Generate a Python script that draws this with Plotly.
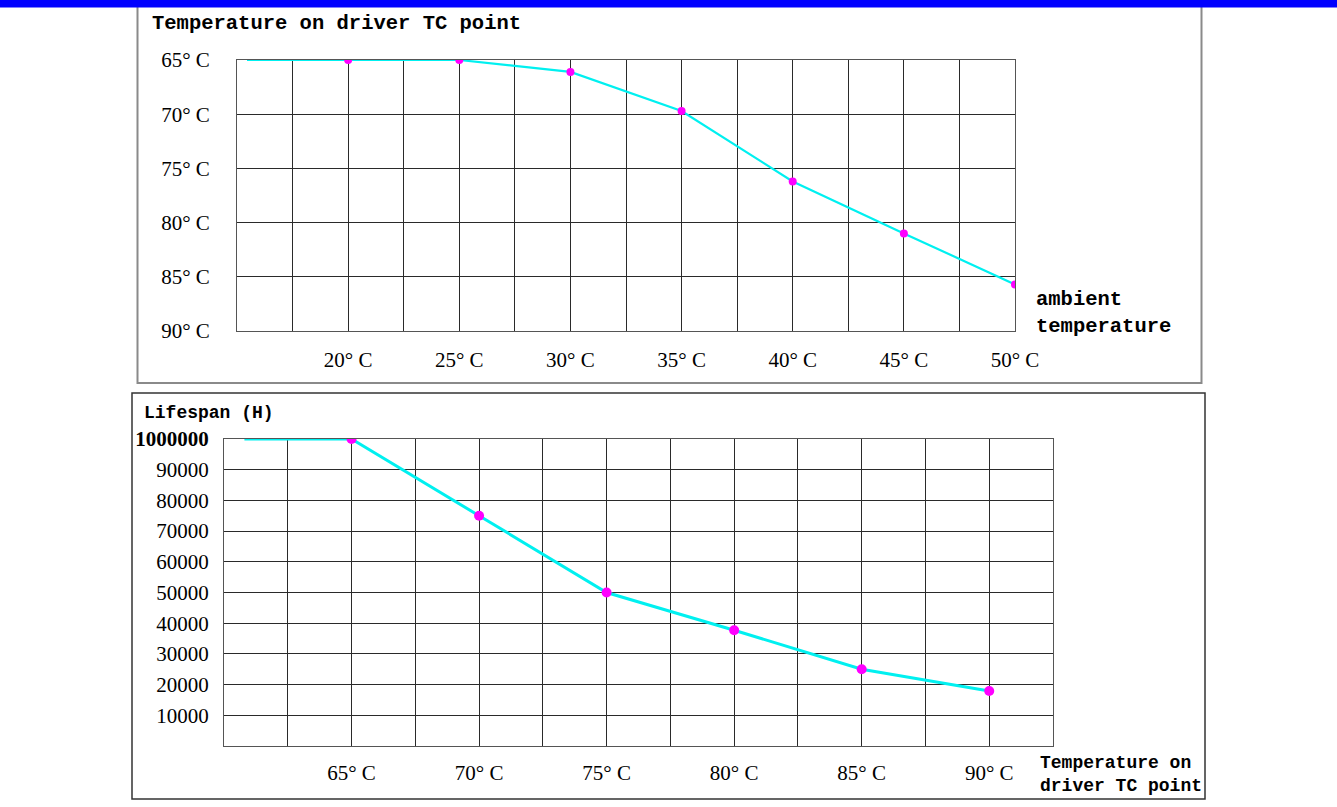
import plotly.graph_objects as go

W, H = 1337, 807

# ---- data: top chart (ambient temperature -> driver TC temperature)
amb_x = [15.45, 20, 25, 30, 35, 40, 45, 50]
tc_y = [65, 65, 65, 66.1, 69.7, 76.2, 81.0, 85.7]
amb_marker = [False, True, True, True, True, True, True, True]
top_xticks = [20, 25, 30, 35, 40, 45, 50]
top_xlabels = ["20° C", "25° C", "30° C", "35° C", "40° C", "45° C", "50° C"]
top_yticks = [65, 70, 75, 80, 85, 90]
top_ylabels = ["65° C", "70° C", "75° C", "80° C", "85° C", "90° C"]

# ---- data: bottom chart (driver TC temperature -> lifespan)
tc_x = [60.8, 65, 70, 75, 80, 85, 90]
life_y = [100000, 100000, 75000, 50000, 37700, 25000, 17900]
bot_xticks = [65, 70, 75, 80, 85, 90]
bot_xlabels = ["65° C", "70° C", "75° C", "80° C", "85° C", "90° C"]
bot_yticks = [10000, 20000, 30000, 40000, 50000, 60000, 70000, 80000, 90000, 100000]
bot_ylabels = ["10000", "20000", "30000", "40000", "50000", "60000", "70000",
               "80000", "90000", "<b>1000000</b>"]


def px(x):
    return x / W


def py(y):
    return 1 - y / H


SERIF = "Liberation Serif"
MONO = "Liberation Mono"
GRID = "#2a2a2a"

fig = go.Figure()

# top chart
fig.add_trace(go.Scatter(x=amb_x, y=tc_y, mode="lines", line=dict(color="#00F0F0", width=2.2),
                         xaxis="x", yaxis="y", hoverinfo="skip", showlegend=False))
fig.add_trace(go.Scatter(x=[v for v, m in zip(amb_x, amb_marker) if m],
                         y=[v for v, m in zip(tc_y, amb_marker) if m],
                         mode="markers", marker=dict(color="#FF00FF", size=8),
                         xaxis="x", yaxis="y", showlegend=False))
# bottom chart
fig.add_trace(go.Scatter(x=tc_x, y=life_y, mode="lines", line=dict(color="#00F0F0", width=3),
                         xaxis="x2", yaxis="y2", hoverinfo="skip", showlegend=False))
fig.add_trace(go.Scatter(x=tc_x[1:], y=life_y[1:], mode="markers",
                         marker=dict(color="#FF00FF", size=10),
                         xaxis="x2", yaxis="y2", showlegend=False))

tickfont = dict(family=SERIF, size=21, color="black")
common = dict(showgrid=True, gridcolor=GRID, gridwidth=1, showline=True, linecolor="#555",
              linewidth=1, mirror=True, zeroline=False, ticks="", automargin=False,
              tickfont=tickfont)

fig.update_layout(
    template="none",
    width=W, height=H,
    margin=dict(l=0, r=0, t=0, b=0, pad=0, autoexpand=False),
    paper_bgcolor="white", plot_bgcolor="white",
    xaxis=dict(domain=[px(237), px(1015)], range=[15, 50], anchor="y",
               tickvals=top_xticks, ticktext=top_xlabels,
               minor=dict(tick0=15, dtick=2.5, showgrid=True, gridcolor=GRID, gridwidth=1),
               ticklabelstandoff=10, **common),
    yaxis=dict(domain=[py(331), py(60)], range=[90, 65], anchor="x",
               tickvals=top_yticks, ticktext=top_ylabels,
               ticklabelstandoff=22, **common),
    xaxis2=dict(domain=[px(224), px(1053)], range=[60, 92.5], anchor="y2",
                tickvals=bot_xticks, ticktext=bot_xlabels,
                minor=dict(tick0=60, dtick=2.5, showgrid=True, gridcolor=GRID, gridwidth=1),
                ticklabelstandoff=8, **common),
    yaxis2=dict(domain=[py(746), py(439)], range=[0, 100000], anchor="x2",
                tickvals=bot_yticks, ticktext=bot_ylabels,
                ticklabelstandoff=10, **common),
)

shapes = [
    dict(type="rect", xref="paper", yref="paper", x0=px(137.5), x1=px(1201.5),
         y0=py(383), y1=py(2), line=dict(color="#8a8a8a", width=2), fillcolor="rgba(0,0,0,0)"),
    dict(type="rect", xref="paper", yref="paper", x0=px(132), x1=px(1205),
         y0=py(799), y1=py(393), line=dict(color="#333333", width=1.5), fillcolor="rgba(0,0,0,0)"),
    dict(type="rect", xref="paper", yref="paper", x0=0, x1=1, y0=py(7.5), y1=1,
         line=dict(width=0), fillcolor="#0000FF"),
]
fig.update_layout(shapes=shapes)

labfont = dict(family=MONO, size=20.5, color="black")
annotations = [
    dict(text="<b>Temperature on driver TC point</b>", x=px(150), y=py(24),
         xanchor="left", yanchor="middle", font=labfont),
    dict(text="<b>ambient</b><br><b>temperature</b>", x=px(1034), y=py(313),
         xanchor="left", yanchor="middle", align="left", font=labfont),
    dict(text="<b>Lifespan (H)</b>", x=px(142), y=py(413),
         xanchor="left", yanchor="middle", font=dict(family=MONO, size=18, color="black")),
    dict(text="<b>Temperature on</b><br><b>driver TC point</b>", x=px(1038), y=py(774),
         xanchor="left", yanchor="middle", align="left",
         font=dict(family=MONO, size=18, color="black")),
]
for a in annotations:
    a.update(xref="paper", yref="paper", showarrow=False)
fig.update_layout(annotations=annotations)

fig.write_html(
    "out.html",
    config={"staticPlot": True, "displayModeBar": False},
    post_script=(
        "document.body.style.margin='0';document.body.style.padding='0';"
        "document.body.style.overflow='hidden';"
    ),
)
